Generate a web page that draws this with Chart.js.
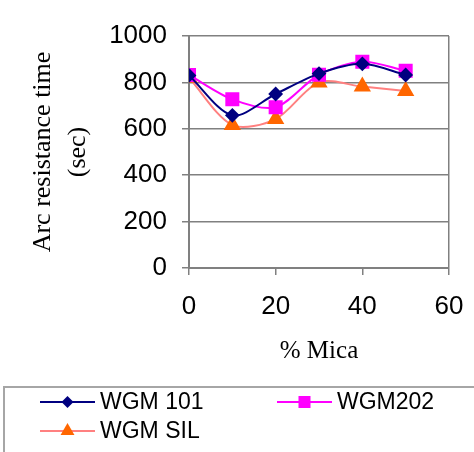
<!DOCTYPE html>
<html><head><meta charset="utf-8">
<script src="https://cdn.jsdelivr.net/npm/chart.js@4/dist/chart.umd.min.js"></script>
<style>html,body{margin:0;padding:0;background:#fff;} #wrap{width:474px;height:452px;position:relative;}</style>
</head><body><div id="wrap"><canvas id="c"></canvas></div>
<script>
const micaPercent = [0, 10, 20, 30, 40, 50];
const wgm101 = [830, 658, 750, 838, 880, 832];
const wgm202 = [832, 727, 693, 833, 889, 850];
const wgmSil = [820, 616, 642, 800, 782, 763];
const seriesNames = ['WGM 101', 'WGM202', 'WGM SIL'];
const xTickValues = [0, 20, 40, 60];
const yTickValues = [0, 200, 400, 600, 800, 1000];
const xTitle = '% Mica';
const yTitle = ['Arc resistance time', '(sec)'];

const toPts = arr => arr.map((v, i) => ({x: micaPercent[i], y: v}));

const GRID = '#808080';

function drawMarker(ctx, style, x, y, r, fill) {
  ctx.save();
  ctx.fillStyle = fill;
  ctx.beginPath();
  if (style === 'rectRot') {
    ctx.moveTo(x, y - r); ctx.lineTo(x + r, y); ctx.lineTo(x, y + r); ctx.lineTo(x - r, y);
  } else if (style === 'rect') {
    const s = r * Math.SQRT1_2;
    ctx.rect(x - s, y - s, 2 * s, 2 * s);
  } else {
    ctx.moveTo(x, y - r);
    ctx.lineTo(x + r * Math.sin(Math.PI * 2 / 3), y - r * Math.cos(Math.PI * 2 / 3));
    ctx.lineTo(x + r * Math.sin(Math.PI * 4 / 3), y - r * Math.cos(Math.PI * 4 / 3));
  }
  ctx.closePath();
  ctx.fill();
  ctx.restore();
}

const boxLegend = {
  id: 'boxLegend',
  afterDraw(chart) {
    const ctx = chart.ctx;
    ctx.save();
    ctx.strokeStyle = '#a6a6a6';
    ctx.lineWidth = 2;
    ctx.strokeRect(4, 387, 480, 80);
    const slots = [[40, 402], [277, 402], [40, 431]];
    chart.data.datasets.forEach((ds, i) => {
      const [x0, y] = slots[i];
      ctx.strokeStyle = ds.borderColor;
      ctx.lineWidth = ds.borderWidth;
      ctx.beginPath(); ctx.moveTo(x0, y); ctx.lineTo(x0 + 55, y); ctx.stroke();
      drawMarker(ctx, ds.pointStyle, x0 + 27.5, y, ds.pointRadius, ds.pointBackgroundColor);
      ctx.fillStyle = '#000';
      ctx.font = '23px "Liberation Sans", Arial, sans-serif';
      ctx.textBaseline = 'middle';
      ctx.textAlign = 'left';
      ctx.fillText(ds.label, x0 + 60, y + 1);
    });
    ctx.restore();
  }
};

new Chart(document.getElementById('c'), {
  type: 'line',
  data: {
    datasets: [
      {label: seriesNames[0], data: toPts(wgm101), borderColor: '#000080', backgroundColor: '#000080',
       pointBackgroundColor: '#000080', pointBorderColor: '#000080', pointStyle: 'rectRot', pointRadius: 6, borderWidth: 2},
      {label: seriesNames[1], data: toPts(wgm202), borderColor: '#ff00ff', backgroundColor: '#ff00ff',
       pointBackgroundColor: '#ff00ff', pointBorderColor: '#ff00ff', pointStyle: 'rect', pointRadius: 8.5, borderWidth: 2},
      {label: seriesNames[2], data: toPts(wgmSil), borderColor: '#ff8080', backgroundColor: '#ff6600',
       pointBackgroundColor: '#ff6600', pointBorderColor: '#ff6600', pointStyle: 'triangle', pointRadius: 8, borderWidth: 2}
    ]
  },
  options: {
    responsive: true,
    maintainAspectRatio: false,
    animation: false,
    devicePixelRatio: 1,
    layout: {padding: {left: 0, right: 25, top: 36, bottom: 86}},
    elements: {line: {tension: 0.3, fill: false}, point: {borderWidth: 1, hoverRadius: 8}},
    plugins: {legend: {display: false}, tooltip: {enabled: false}},
    scales: {
      x: {
        type: 'linear', min: 0, max: 60,
        afterBuildTicks: s => { s.ticks = xTickValues.map(v => ({value: v})); },
        afterFit: s => { s.height = 98; s.paddingRight = 0; s.paddingLeft = 0; },
        ticks: {color: '#000', font: {family: '"Liberation Sans", Arial, sans-serif', size: 26}, padding: 16, callback: v => String(v)},
        grid: {color: c => (c.tick && c.tick.value === 60) ? GRID : 'rgba(0,0,0,0)', tickColor: GRID, tickLength: 7, lineWidth: 1.5},
        border: {display: true, color: GRID, width: 2},
        title: {display: true, text: xTitle, color: '#000', font: {family: '"Liberation Serif", "Times New Roman", serif', size: 25}, padding: {top: 14, bottom: 0}}
      },
      y: {
        min: 0, max: 1000,
        afterBuildTicks: s => { s.ticks = yTickValues.map(v => ({value: v})); },
        afterFit: s => { s.width = 189; s.paddingTop = 0; s.paddingBottom = 0; },
        ticks: {color: '#000', font: {family: '"Liberation Sans", Arial, sans-serif', size: 26}, padding: 15, callback: v => String(v)},
        grid: {color: GRID, tickColor: GRID, tickLength: 7, lineWidth: 1.5},
        border: {display: true, color: GRID, width: 2},
        title: {display: true, text: yTitle, color: '#000', font: {family: '"Liberation Serif", "Times New Roman", serif', size: 26, lineHeight: 1.35}, padding: {top: 26, bottom: 0}}
      }
    }
  },
  plugins: [boxLegend]
});
</script>
</body></html>
